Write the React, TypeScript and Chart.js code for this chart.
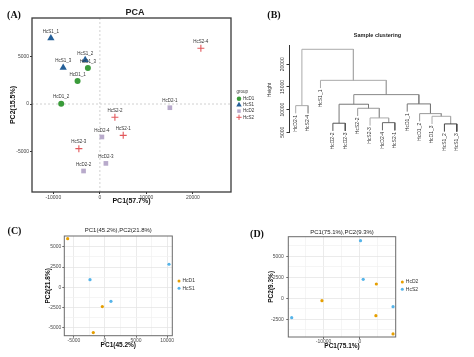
import React, { useEffect, useRef } from 'react';
import { Chart, registerables } from 'chart.js';
import { drawPoint } from 'chart.js/helpers';

Chart.register(...registerables);

const SANS = "'Liberation Sans', Arial, Helvetica, sans-serif";
const SERIF = "'Liberation Serif', 'Times New Roman', serif";

// ---------------- Panel A : PCA of all samples ----------------
const groupNamesA = ['HcD1', 'HcS1', 'HcD2', 'HcS2'];
const hcD1Names = ['HcD1_1', 'HcD1_2', 'HcD1_3'];
const hcD1PC1 = [-4800, -8320, -2580];
const hcD1PC2 = [2420, 30, 3790];
const hcS1Names = ['HcS1_1', 'HcS1_2', 'HcS1_3'];
const hcS1PC1 = [-10540, -3160, -7890];
const hcS1PC2 = [6920, 4630, 3820];
const hcD2Names = ['HcD2-1', 'HcD2-2', 'HcD2-3', 'HcD2-4'];
const hcD2PC1 = [15050, -3510, 1290, 430];
const hcD2PC2 = [-390, -7050, -6250, -3470];
const hcS2Names = ['HcS2-1', 'HcS2-2', 'HcS2-3', 'HcS2-4'];
const hcS2PC1 = [5020, 3230, -4520, 21720];
const hcS2PC2 = [-3300, -1400, -4700, 5860];
const xTicksA = [-10000, 0, 10000, 20000];
const yTicksA = [-5000, 0, 5000];

// ---------------- Panel B : sample clustering ----------------
const leafNamesB = ['HcD2-1', 'HcS2-4', 'HcS1_1', 'HcD2-2', 'HcD2-3', 'HcS2-2', 'HcS2-3', 'HcD2-4', 'HcS2-1', 'HcD1_1', 'HcD1_2', 'HcD1_3', 'HcS1_2', 'HcS1_3'];
// hclust-style merge table (negative = leaf position, positive = earlier merge)
const mergeLeftB = [-13, -4, -8, -7, -12, -11, -6, -1, 2, -10, 9, -3, 8];
const mergeRightB = [-14, -5, -9, 3, 1, 5, 4, -2, 7, 6, 10, 11, 12];
const mergeHeightB = [6850, 7000, 7130, 8170, 8530, 9120, 10300, 10880, 11190, 11260, 13310, 16460, 23310];
const yTicksB = [5000, 10000, 15000, 20000];

// ---------------- Panel C : HcD1 vs HcS1 ----------------
const groupNamesC = ['HcD1', 'HcS1'];
const hcD1C_PC1 = [-6000, -430, -1880];
const hcD1C_PC2 = [6000, -2390, -5600];
const hcS1C_PC1 = [-2410, 960, 10290];
const hcS1C_PC2 = [940, -1730, 2840];
const xMajorC = [-5000, 0, 5000, 10000];
const xMinorC = [-2500, 2500, 7500];
const yMajorC = [-5000, -2500, 0, 2500, 5000];
const yMinorC = [-3750, -1250, 1250, 3750];

// ---------------- Panel D : HcD2 vs HcS2 ----------------
const groupNamesD = ['HcD2', 'HcS2'];
const hcD2D_PC1 = [-10440, 4560, 4440, 9170];
const hcD2D_PC2 = [-290, 1700, -2070, -4240];
const hcS2D_PC1 = [190, 940, 9170, -18780];
const hcS2D_PC2 = [6860, 2260, -1000, -2310];
const xMajorD = [-10000, 0];
const xMinorD = [-15000, -5000, 5000];
const yMajorD = [-2500, 0, 2500, 5000];
const yMinorD = [-3750, -1250, 1250, 3750, 6250];

// ---------------- helpers ----------------
const pts = (xs: number[], ys: number[]) => xs.map((x, i) => ({ x, y: ys[i] }));

function txt(ctx: CanvasRenderingContext2D, s: string, x: number, y: number, font: string, color: string, align: CanvasTextAlign = 'center', rot = 0) {
  ctx.save();
  ctx.translate(x, y);
  if (rot) ctx.rotate(rot);
  ctx.font = font;
  ctx.fillStyle = color;
  ctx.textAlign = align;
  ctx.textBaseline = 'middle';
  ctx.fillText(s, 0, 0);
  ctx.restore();
}

function symbol(ctx: CanvasRenderingContext2D, style: string, r: number, color: string, x: number, y: number) {
  ctx.save();
  ctx.fillStyle = color;
  ctx.strokeStyle = color;
  ctx.lineWidth = 1;
  drawPoint(ctx, { pointStyle: style as any, radius: r, rotation: 0, borderWidth: style === 'cross' ? 1 : 0 } as any, x, y);
  ctx.restore();
}

const baseOptions = (padding: any) => ({
  responsive: false,
  maintainAspectRatio: false,
  animation: false as const,
  events: [] as any[],
  layout: { padding },
  plugins: { legend: { display: false }, title: { display: false }, tooltip: { enabled: false } },
});

// ---------------- Panel A config ----------------
function configA(): any {
  const styleA: Record<string, { color: string; style: string; r: number }> = {
    HcD1: { color: '#3a9b3a', style: 'circle', r: 3 },
    HcS1: { color: '#245f98', style: 'triangle', r: 4.2 },
    HcD2: { color: '#b8aacb', style: 'rect', r: 3.3 },
    HcS2: { color: '#e2575b', style: 'cross', r: 3.5 },
  };
  const series = [
    { name: 'HcD1', labels: hcD1Names, x: hcD1PC1, y: hcD1PC2 },
    { name: 'HcS1', labels: hcS1Names, x: hcS1PC1, y: hcS1PC2 },
    { name: 'HcD2', labels: hcD2Names, x: hcD2PC1, y: hcD2PC2 },
    { name: 'HcS2', labels: hcS2Names, x: hcS2PC1, y: hcS2PC2 },
  ];
  const datasets = series.map((s) => {
    const st = styleA[s.name];
    return {
      label: s.name,
      data: pts(s.x, s.y),
      pointLabels: s.labels,
      pointStyle: st.style,
      pointRadius: st.r,
      backgroundColor: st.color,
      borderColor: st.color,
      borderWidth: st.style === 'cross' ? 1.1 : 0,
    };
  });
  const plugin = {
    id: 'decorA',
    beforeDatasetsDraw(chart: any) {
      const { ctx, chartArea: ca, scales } = chart;
      const x0 = scales.x.getPixelForValue(0);
      const y0 = scales.y.getPixelForValue(0);
      ctx.save();
      ctx.strokeStyle = '#c4c4c4';
      ctx.lineWidth = 0.8;
      ctx.setLineDash([2, 2]);
      ctx.beginPath();
      ctx.moveTo(x0, ca.top); ctx.lineTo(x0, ca.bottom);
      ctx.moveTo(ca.left, y0); ctx.lineTo(ca.right, y0);
      ctx.stroke();
      ctx.restore();
    },
    afterDatasetsDraw(chart: any) {
      const { ctx, chartArea: ca } = chart;
      chart.data.datasets.forEach((ds: any, i: number) => {
        chart.getDatasetMeta(i).data.forEach((el: any, j: number) => {
          txt(ctx, ds.pointLabels[j], el.x, el.y - 6.5, `4.5px ${SANS}`, '#333');
        });
      });
      ctx.save();
      ctx.strokeStyle = '#3a3a3a';
      ctx.lineWidth = 1.3;
      ctx.strokeRect(ca.left, ca.top, ca.right - ca.left, ca.bottom - ca.top);
      ctx.restore();
    },
    afterDraw(chart: any) {
      const { ctx } = chart;
      txt(ctx, '(A)', 14, 15, `bold 10px ${SERIF}`, '#111');
      txt(ctx, 'PCA', 135, 12.5, `bold 9px ${SANS}`, '#222');
      txt(ctx, 'group', 236.5, 92, `4.5px ${SANS}`, '#333', 'left');
      groupNamesA.forEach((g, i) => {
        const y = 98.7 + i * 6.2;
        const st = styleA[g];
        symbol(ctx, st.style, st.r * 0.75, st.color, 239, y);
        txt(ctx, g, 243, y, `4.5px ${SANS}`, '#333', 'left');
      });
    },
  };
  return {
    type: 'scatter',
    data: { datasets },
    options: {
      ...baseOptions({ left: 9.1, top: 18, right: 243, bottom: 151.3 }),
      scales: {
        x: {
          type: 'linear', min: -14600, max: 28200,
          afterBuildTicks: (s: any) => { s.ticks = xTicksA.map((v) => ({ value: v })); },
          afterFit: (s: any) => { s.height = 13.7; },
          ticks: { autoSkip: false, maxRotation: 0, padding: 1, color: '#444', font: { size: 5, family: SANS }, callback: (v: any) => String(v) },
          grid: { drawOnChartArea: false, tickLength: 2, color: '#333' },
          border: { display: false },
          title: { display: true, text: 'PC1(57.7%)', color: '#111', padding: 0, font: { size: 7, weight: 'bold', family: SANS } },
        },
        y: {
          type: 'linear', min: -9260, max: 9050,
          afterBuildTicks: (s: any) => { s.ticks = yTicksA.map((v) => ({ value: v })); },
          afterFit: (s: any) => { s.width = 22.9; },
          ticks: { autoSkip: false, padding: 1, color: '#444', font: { size: 5, family: SANS }, callback: (v: any) => String(v) },
          grid: { drawOnChartArea: false, tickLength: 2, color: '#333' },
          border: { display: false },
          title: { display: true, text: 'PC2(15.5%)', color: '#111', padding: 0, font: { size: 7, weight: 'bold', family: SANS } },
        },
      },
    },
    plugins: [plugin],
  };
}

// ---------------- Panel B config ----------------
function configB(): any {
  const hang = 1700;
  const shade = ['#444', '#555', '#666', '#aaa', '#aaa', '#999', '#999', '#aaa', '#777', '#777', '#888', '#aaa', '#aaa'];
  const nodeX: number[] = [];
  const nodeY: number[] = [];
  const leafEnd: number[] = new Array(leafNamesB.length).fill(0);
  const segs: { x: number; y: number }[][] = [];
  const childPos = (c: number, h: number) => {
    if (c < 0) {
      leafEnd[-c - 1] = h - hang;
      return { x: -c, y: h - hang };
    }
    return { x: nodeX[c - 1], y: nodeY[c - 1] };
  };
  mergeLeftB.forEach((l, k) => {
    const h = mergeHeightB[k];
    const a = childPos(l, h);
    const b = childPos(mergeRightB[k], h);
    nodeX[k] = (a.x + b.x) / 2;
    nodeY[k] = h;
    segs.push([{ x: a.x, y: a.y }, { x: a.x, y: h }, { x: b.x, y: h }, { x: b.x, y: b.y }]);
  });
  const datasets = segs.map((d, k) => ({
    data: d, showLine: true, pointRadius: 0, borderColor: shade[k], borderWidth: 1, clip: false, fill: false, tension: 0,
  }));
  const plugin = {
    id: 'decorB',
    afterDraw(chart: any) {
      const { ctx, chartArea: ca, scales } = chart;
      txt(ctx, '(B)', 274, 15.7, `bold 10px ${SERIF}`, '#111');
      txt(ctx, 'Sample clustering', 377.5, 35, `bold 5.5px ${SANS}`, '#222');
      txt(ctx, 'Height', 270, 90, `5px ${SANS}`, '#333', 'center', -Math.PI / 2);
      scales.y.ticks.forEach((t: any) => {
        txt(ctx, String(t.value), ca.left - 7, scales.y.getPixelForValue(t.value), `5px ${SANS}`, '#333', 'center', -Math.PI / 2);
      });
      leafNamesB.forEach((n, i) => {
        const x = scales.x.getPixelForValue(i + 1);
        const y = scales.y.getPixelForValue(leafEnd[i]) + 1.5;
        txt(ctx, n, x, y, `5px ${SANS}`, '#333', 'right', -Math.PI / 2);
      });
    },
  };
  return {
    type: 'scatter',
    data: { datasets },
    options: {
      ...baseOptions({ left: 269.5, top: 45.7, right: 11, bottom: 224.7 }),
      scales: {
        x: { type: 'linear', min: 0.5, max: 14.5, display: false },
        y: {
          type: 'linear', min: 5000, max: 24100,
          afterBuildTicks: (s: any) => { s.ticks = yTicksB.map((v) => ({ value: v })); },
          afterFit: (s: any) => { s.width = 20; },
          ticks: { display: false },
          grid: { drawOnChartArea: false, tickLength: 3, color: '#333' },
          border: { display: true, color: '#333', width: 1 },
        },
      },
    },
    plugins: [plugin],
  };
}

// ---------------- Panels C / D (ggplot-like) ----------------
const ggColors = ['#E69F00', '#56B4E9'];

function ggConfig(p: any): any {
  const datasets = p.groups.map((g: string, i: number) => ({
    label: g,
    data: pts(p.xs[i], p.ys[i]),
    pointStyle: 'circle',
    pointRadius: 1.6,
    backgroundColor: ggColors[i],
    borderWidth: 0,
  }));
  const axis = (major: number[], minor: number[], min: number, max: number, title: string, fit: any, pad: number) => ({
    type: 'linear', min, max,
    afterBuildTicks: (s: any) => { s.ticks = [...major, ...minor].sort((a, b) => a - b).map((v) => ({ value: v })); },
    afterFit: fit,
    ticks: { autoSkip: false, maxRotation: 0, padding: pad, color: '#4d4d4d', font: { size: 5, family: SANS }, callback: (v: any) => (major.includes(v) ? String(v) : '') },
    grid: {
      drawOnChartArea: true, tickLength: 2, lineWidth: 0.8,
      color: (c: any) => (major.includes(c.tick?.value) ? '#e6e6e6' : '#f3f3f3'),
      tickColor: (c: any) => (major.includes(c.tick?.value) ? '#444' : 'rgba(0,0,0,0)'),
    },
    border: { display: false },
    title: { display: true, text: title, color: '#111', padding: 0, font: { size: 6.5, weight: 'bold', family: SANS } },
  });
  const plugin = {
    id: 'decor' + p.tag,
    afterDraw(chart: any) {
      const { ctx, chartArea: ca } = chart;
      ctx.save();
      ctx.strokeStyle = '#6a6a6a';
      ctx.lineWidth = 1;
      ctx.strokeRect(ca.left, ca.top, ca.right - ca.left, ca.bottom - ca.top);
      ctx.restore();
      txt(ctx, p.tagText, p.tagX, p.tagY, `bold 10px ${SERIF}`, '#111');
      txt(ctx, p.title, (ca.left + ca.right) / 2, p.titleY, `6px ${SANS}`, '#222');
      p.groups.forEach((g: string, i: number) => {
        const y = p.legY + i * 7.3;
        symbol(ctx, 'circle', 1.5, ggColors[i], p.legX, y);
        txt(ctx, g, p.legX + 3.5, y, `5px ${SANS}`, '#333', 'left');
      });
    },
  };
  return {
    type: 'scatter',
    data: { datasets },
    options: {
      ...baseOptions(p.padding),
      scales: {
        x: axis(p.xMajor, p.xMinor, p.xMin, p.xMax, p.xTitle, (s: any) => { s.height = p.xH; }, 0),
        y: axis(p.yMajor, p.yMinor, p.yMin, p.yMax, p.yTitle, (s: any) => { s.width = p.yW; }, p.yPad),
      },
    },
    plugins: [plugin],
  };
}

function configC(): any {
  return ggConfig({
    tag: 'C', tagText: '(C)', tagX: 14.5, tagY: 231,
    title: 'PC1(45.2%),PC2(21.8%)', titleY: 230.7,
    groups: groupNamesC,
    xs: [hcD1C_PC1, hcS1C_PC1], ys: [hcD1C_PC2, hcS1C_PC2],
    xMajor: xMajorC, xMinor: xMinorC, yMajor: yMajorC, yMinor: yMinorC,
    xMin: -6540, xMax: 10820, yMin: -5980, yMax: 6330,
    xTitle: 'PC1(45.2%)', yTitle: 'PC2(21.8%)',
    padding: { left: 44.4, top: 236, right: 301.7, bottom: 8.1 },
    xH: 13.2, yW: 19.9, yPad: 1,
    legX: 179, legY: 281,
  });
}

function configD(): any {
  return ggConfig({
    tag: 'D', tagText: '(D)', tagX: 257, tagY: 234,
    title: 'PC1(75.1%),PC2(9.3%)', titleY: 232.3,
    groups: groupNamesD,
    xs: [hcD2D_PC1, hcS2D_PC1], ys: [hcD2D_PC2, hcS2D_PC2],
    xMajor: xMajorD, xMinor: xMinorD, yMajor: yMajorD, yMinor: yMinorD,
    xMin: -19720, xMax: 9900, yMin: -4610, yMax: 7330,
    xTitle: 'PC1(75.1%)', yTitle: 'PC2(9.3%)',
    padding: { left: 267.8, top: 236.7, right: 78.3, bottom: 6.4 },
    xH: 13.6, yW: 20.5, yPad: 2.5,
    legX: 402.3, legY: 282,
  });
}

function ChartCanvas({ make }: { make: () => any }) {
  const ref = useRef<HTMLCanvasElement | null>(null);
  useEffect(() => {
    if (!ref.current) return;
    const chart = new Chart(ref.current, make());
    return () => chart.destroy();
  }, [make]);
  return (
    <canvas
      ref={ref}
      width={474}
      height={357}
      style={{ position: 'absolute', left: 0, top: 0, width: 474, height: 357 }}
    />
  );
}

export default function App() {
  return (
    <div style={{ position: 'fixed', left: 0, top: 0, width: 474, height: 357, background: '#ffffff' }}>
      <ChartCanvas make={configA} />
      <ChartCanvas make={configB} />
      <ChartCanvas make={configC} />
      <ChartCanvas make={configD} />
    </div>
  );
}
